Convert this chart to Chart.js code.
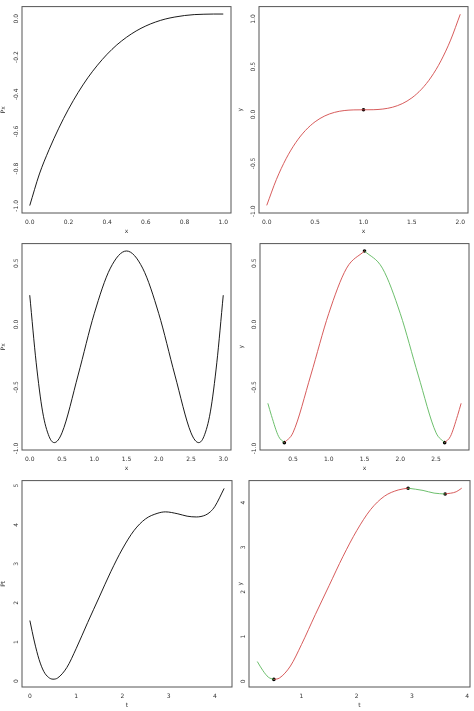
<!DOCTYPE html><html><head><style>
body{margin:0;background:#fff}
#g{display:grid;grid-template-columns:237px 237px;grid-template-rows:237px 237px 237px}
canvas{display:block}
</style>
<script src="https://cdn.jsdelivr.net/npm/chart.js@4"></script></head><body><div id="g">
<div><canvas id="c1" width="237" height="237"></canvas></div>
<div><canvas id="c2" width="237" height="237"></canvas></div>
<div><canvas id="c3" width="237" height="237"></canvas></div>
<div><canvas id="c4" width="237" height="237"></canvas></div>
<div><canvas id="c5" width="237" height="237"></canvas></div>
<div><canvas id="c6" width="237" height="237"></canvas></div>
</div><script>
// Panel 1 and 2
const x1=[0,0.05,0.1,0.15,0.2,0.25,0.3,0.35,0.4,0.45,0.5,0.55,0.6,0.65,0.7,0.75,0.8,0.85,0.9,0.95,1.0];
const y1=[-1.03,-0.86,-0.729,-0.614,-0.512,-0.422,-0.343,-0.275,-0.216,-0.166,-0.125,-0.091,-0.064,-0.043,-0.027,-0.016,-0.008,-0.003,-0.001,0,0];
const x2=[0,0.1,0.2,0.3,0.4,0.5,0.6,0.7,0.8,0.9,1.0,1.1,1.2,1.3,1.4,1.5,1.6,1.7,1.8,1.9,2.0];
const y2=[-1.0,-0.729,-0.512,-0.343,-0.216,-0.125,-0.064,-0.027,-0.008,-0.001,0,0.001,0.008,0.027,0.064,0.125,0.216,0.343,0.512,0.729,1.0];
const crit2=[[1.0,0]];
// Panel 3 and 4
const x3=[0,0.1,0.2,0.3,0.38,0.5,0.75,1.0,1.25,1.5,1.75,2.0,2.25,2.5,2.62,2.7,2.8,2.9,3.0];
const y3=[0.2,-0.35,-0.75,-0.95,-1.0,-0.92,-0.45,0.05,0.42,0.56,0.42,0.05,-0.45,-0.92,-1.0,-0.95,-0.75,-0.35,0.2];
const x4=[0.15,0.2,0.3,0.38,0.5,0.75,1.0,1.25,1.5,1.75,2.0,2.25,2.5,2.62,2.7,2.8,2.85];
const y4=[-0.68,-0.78,-0.95,-1.0,-0.92,-0.45,0.05,0.42,0.56,0.42,0.05,-0.45,-0.92,-1.0,-0.95,-0.78,-0.68];
const crit4=[[0.38,-1.0],[1.5,0.56],[2.62,-1.0]];
// Panel 5 and 6
const x5=[0,0.1,0.2,0.3,0.4,0.5,0.6,0.8,1.0,1.25,1.5,1.75,2.0,2.25,2.5,2.75,2.93,3.2,3.4,3.6,3.8,3.9,4.0,4.2];
const y5=[1.5,0.95,0.5,0.2,0.05,0.0,0.03,0.3,0.78,1.45,2.1,2.75,3.33,3.8,4.1,4.24,4.28,4.23,4.17,4.15,4.2,4.28,4.42,4.88];
const x6=[0.2,0.3,0.4,0.5,0.6,0.8,1.0,1.25,1.5,1.75,2.0,2.25,2.5,2.75,2.93,3.2,3.4,3.6,3.8,3.9];
const y6=[0.4,0.2,0.05,0.0,0.03,0.3,0.78,1.45,2.1,2.75,3.33,3.8,4.1,4.24,4.28,4.23,4.17,4.15,4.2,4.28];
const crit6=[[0.5,0],[2.93,4.28],[3.6,4.15]];

const RED='#d24a4a',GREEN='#5cb85c';
const pts=(xs,ys,a,b)=>xs.map((x,i)=>({x,y:ys[i]})).filter(p=>p.x>=a-1e-9&&p.x<=b+1e-9);
const line=(data,color)=>({data,showLine:true,borderColor:color,borderWidth:0.9,pointRadius:0,cubicInterpolationMode:'monotone',fill:false});
const dots=c=>({data:c.map(p=>({x:p[0],y:p[1]})),showLine:false,pointRadius:1.8,pointBackgroundColor:'#000',pointBorderWidth:0});
const boxPlugin={id:'box',afterDraw(ch){const a=ch.chartArea,c=ch.ctx;c.save();c.strokeStyle='#555';c.lineWidth=1;c.strokeRect(a.left,a.top,a.right-a.left,a.bottom-a.top);c.restore();}};
const F={family:'DejaVu Sans',size:6};
function mk(id,datasets,xr,yr,xl,yl,lpad,yw,rpad){
  new Chart(document.getElementById(id),{type:'scatter',data:{datasets},plugins:[boxPlugin],
  options:{responsive:false,animation:false,layout:{padding:{left:lpad,top:5,right:rpad,bottom:0}},
   plugins:{legend:{display:false},tooltip:{enabled:false}},
   scales:{
    x:{type:'linear',min:xr[0],max:xr[1],afterBuildTicks:s=>{s.ticks=xr[2].map(v=>({value:v}));},
      grid:{display:false,drawTicks:true,tickLength:3,tickColor:'#555'},border:{display:false},
      ticks:{font:F,color:'#333',maxRotation:0,callback:v=>xr[3](v)},
      title:{display:true,text:xl,font:F,color:'#333',padding:{top:2,bottom:2}},
      afterFit:s=>{s.height=24;}},
    y:{type:'linear',min:yr[0],max:yr[1],afterBuildTicks:s=>{s.ticks=yr[2].map(v=>({value:v}));},
      grid:{display:false,drawTicks:true,tickLength:3,tickColor:'#555'},border:{display:false},
      ticks:{font:F,color:'#333',minRotation:90,maxRotation:90,callback:v=>yr[3](v)},
      title:{display:true,text:yl,font:F,color:'#333',padding:0},
      afterFit:s=>{s.width=yw;}}
   }}});
}
const f1=v=>v.toFixed(1),f0=v=>v.toFixed(0);
mk('c1',[line(pts(x1,y1,0,1),'#000')],[-0.04,1.04,[0,0.2,0.4,0.6,0.8,1.0],f1],[-1.07,0.04,[-1.0,-0.8,-0.6,-0.4,-0.2,0],f1],'x','Px',0,22,6);
mk('c2',[line(pts(x2,y2,0,2),RED),dots(crit2)],[-0.08,2.08,[0,0.5,1.0,1.5,2.0],f1],[-1.08,1.08,[-1.0,-0.5,0,0.5,1.0],f1],'x','y',0,22,6);
mk('c3',[line(pts(x3,y3,0,3),'#000')],[-0.12,3.12,[0,0.5,1.0,1.5,2.0,2.5,3.0],f1],[-1.06,0.62,[-1.0,-0.5,0,0.5],f1],'x','Px',0,22,6);
mk('c4',[line(pts(x4,y4,0.15,0.38),GREEN),line(pts(x4,y4,0.38,1.5),RED),line(pts(x4,y4,1.5,2.62),GREEN),line(pts(x4,y4,2.62,2.85),RED),dots(crit4)],
   [0.04,2.96,[0.5,1.0,1.5,2.0,2.5],f1],[-1.06,0.62,[-1.0,-0.5,0,0.5],f1],'x','y',1,22,5);
mk('c5',[line(pts(x5,y5,0,4.2),'#000')],[-0.17,4.37,[0,1,2,3,4],f0],[-0.2,5.08,[0,1,2,3,4,5],f0],'t','Pt',0,22,5);
mk('c6',[line(pts(x6,y6,0.2,0.5),GREEN),line(pts(x6,y6,0.5,2.93),RED),line(pts(x6,y6,2.93,3.6),GREEN),line(pts(x6,y6,3.6,3.9),RED),dots(crit6)],
   [0.05,4.05,[1,2,3,4],f0],[-0.17,4.45,[0,1,2,3,4],f0],'t','y',0,12,4);
</script></body></html>
